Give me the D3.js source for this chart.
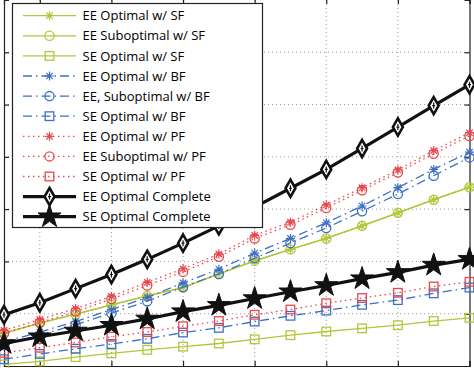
<!DOCTYPE html>
<html>
<head>
<meta charset="utf-8">
<script src="https://cdn.jsdelivr.net/npm/d3@7"></script>
<style>
  html, body { margin: 0; padding: 0; background: #fff; }
  svg { display: block; }
</style>
</head>
<body>
<div id="chart"></div>
<script>
// ---------- data ----------
const xValues = [1, 2, 3, 4, 5, 6, 7, 8, 9, 10, 11, 12, 13, 14];
const xTicks = [2, 4, 6, 8, 10, 12, 14];
const yTicks = [1, 2, 3, 4, 5, 6];

const eeOptSF   = [0.63, 0.82, 0.99, 1.17, 1.34, 1.50, 1.76, 2.01, 2.23, 2.44, 2.68, 2.93, 3.18, 3.42];
const eeSubSF   = [0.63, 0.82, 0.99, 1.17, 1.34, 1.50, 1.76, 2.01, 2.23, 2.44, 2.68, 2.93, 3.18, 3.42];
const seOptSF   = [0.03, 0.09, 0.17, 0.24, 0.31, 0.37, 0.43, 0.51, 0.59, 0.66, 0.72, 0.78, 0.86, 0.92];
const eeOptBF   = [0.46, 0.65, 0.85, 1.08, 1.31, 1.59, 1.85, 2.16, 2.44, 2.74, 3.06, 3.41, 3.76, 4.09];
const eeSubBF   = [0.40, 0.59, 0.79, 1.01, 1.24, 1.51, 1.76, 2.06, 2.35, 2.64, 2.96, 3.29, 3.64, 3.99];
const seOptBF   = [0.13, 0.23, 0.33, 0.42, 0.52, 0.64, 0.73, 0.85, 0.96, 1.06, 1.17, 1.26, 1.39, 1.50];
const eeOptPF   = [0.68, 0.89, 1.10, 1.33, 1.60, 1.86, 2.14, 2.50, 2.75, 3.08, 3.41, 3.75, 4.12, 4.46];
const eeSubPF   = [0.62, 0.83, 1.04, 1.28, 1.54, 1.80, 2.09, 2.44, 2.70, 3.02, 3.36, 3.70, 4.06, 4.40];
const seOptPF   = [0.25, 0.35, 0.45, 0.56, 0.65, 0.76, 0.86, 0.98, 1.08, 1.20, 1.30, 1.40, 1.52, 1.61];
const eeOptComp = [0.98, 1.21, 1.48, 1.75, 2.04, 2.35, 2.68, 3.04, 3.40, 3.76, 4.16, 4.57, 4.98, 5.38];
const seOptComp = [0.43, 0.56, 0.67, 0.78, 0.90, 1.04, 1.16, 1.29, 1.42, 1.54, 1.67, 1.79, 1.93, 2.04];

const seriesNames = [
  "EE Optimal w/ SF", "EE Suboptimal w/ SF", "SE Optimal w/ SF",
  "EE Optimal w/ BF", "EE, Suboptimal w/ BF", "SE Optimal w/ BF",
  "EE Optimal w/ PF", "EE Suboptimal w/ PF", "SE Optimal w/ PF",
  "EE Optimal Complete", "SE Optimal Complete"
];
const seriesValues = [eeOptSF, eeSubSF, seOptSF, eeOptBF, eeSubBF, seOptBF,
                      eeOptPF, eeSubPF, seOptPF, eeOptComp, seOptComp];

// ---------- styles ----------
const GREEN = "#b3c63a", BLUE = "#3d6fc2", RED = "#e8474c", BLACK = "#111";
const styles = [
  {color: GREEN, dash: null, width: 1.3, marker: "asterisk"},
  {color: GREEN, dash: null, width: 1.3, marker: "circle"},
  {color: GREEN, dash: null, width: 1.3, marker: "square"},
  {color: BLUE, dash: "9,4,1.5,4", width: 1.3, marker: "asterisk"},
  {color: BLUE, dash: "9,4,1.5,4", width: 1.3, marker: "circle"},
  {color: BLUE, dash: "9,4,1.5,4", width: 1.3, marker: "square"},
  {color: RED, dash: "1.5,3.5", width: 1.3, marker: "asterisk"},
  {color: RED, dash: "1.5,3.5", width: 1.3, marker: "circle"},
  {color: RED, dash: "1.5,3.5", width: 1.3, marker: "square"},
  {color: BLACK, dash: null, width: 3.2, marker: "diamond"},
  {color: BLACK, dash: null, width: 3.2, marker: "star"}
];

// ---------- layout ----------
const W = 474, H = 368;
const plot = {left: 4, right: 469.5, top: 0, bottom: 366};

const x = d3.scaleLinear().domain([1, 14]).range([plot.left, plot.right]);
const y = d3.scaleLinear().domain([0, 7]).range([plot.bottom, plot.top]);

const svg = d3.select("#chart").append("svg").attr("width", W).attr("height", H);

// grid
const grid = svg.append("g");
grid.selectAll("line.vg").data(xTicks.filter(t => t < 14)).join("line")
  .attr("x1", d => x(d)).attr("x2", d => x(d))
  .attr("y1", plot.top).attr("y2", plot.bottom)
  .attr("stroke", "#9a9a9a").attr("stroke-width", 1).attr("stroke-dasharray", "1,3");
grid.selectAll("line.hg").data(yTicks).join("line")
  .attr("x1", plot.left).attr("x2", plot.right)
  .attr("y1", d => y(d)).attr("y2", d => y(d))
  .attr("stroke", "#9a9a9a").attr("stroke-width", 1).attr("stroke-dasharray", "1,3");

// axes (ticks inward, no labels visible)
const tickLen = 5;
const axB = d3.axisTop(x).tickValues(xTicks).tickSize(tickLen).tickFormat("");
const axT = d3.axisBottom(x).tickValues(xTicks).tickSize(tickLen).tickFormat("");
const axL = d3.axisRight(y).tickValues(yTicks).tickSize(tickLen).tickFormat("");
const axR = d3.axisLeft(y).tickValues(yTicks).tickSize(tickLen).tickFormat("");
function styleAxis(g) {
  g.selectAll("path").attr("stroke", "#222").attr("stroke-width", 1.2);
  g.selectAll("line").attr("stroke", "#222").attr("stroke-width", 1.2);
}
svg.append("g").attr("transform", `translate(0,${plot.bottom})`).call(axB).call(styleAxis);
svg.append("g").attr("transform", `translate(0,${plot.top - 1})`).call(axT).call(styleAxis);
svg.append("g").attr("transform", `translate(${plot.left},0)`).call(axL).call(styleAxis);
svg.append("g").attr("transform", `translate(${plot.right},0)`).call(axR).call(styleAxis);

// marker drawing
function drawMarker(g, type, cx, cy, color) {
  if (type === "asterisk") {
    const r = 4.5;
    const p = d3.path();
    for (let k = 0; k < 4; k++) {
      const a = k * Math.PI / 4;
      p.moveTo(cx - r * Math.cos(a), cy - r * Math.sin(a));
      p.lineTo(cx + r * Math.cos(a), cy + r * Math.sin(a));
    }
    g.append("path").attr("d", p.toString()).attr("stroke", color).attr("stroke-width", 1.2).attr("fill", "none");
  } else if (type === "circle") {
    g.append("circle").attr("cx", cx).attr("cy", cy).attr("r", 4.6)
      .attr("fill", "none").attr("stroke", color).attr("stroke-width", 1.3);
  } else if (type === "square") {
    g.append("rect").attr("x", cx - 4.3).attr("y", cy - 4.3).attr("width", 8.6).attr("height", 8.6)
      .attr("fill", "none").attr("stroke", color).attr("stroke-width", 1.3);
  } else if (type === "diamond") {
    g.append("path").attr("d", d3.symbol().type(d3.symbolDiamond).size(85)())
      .attr("transform", `translate(${cx},${cy})`)
      .attr("fill", "#fff").attr("stroke", color).attr("stroke-width", 2.6);
    g.append("path").attr("d", `M${cx},${cy - 3}L${cx},${cy + 3}M${cx - 1.5},${cy}L${cx + 1.5},${cy}`)
      .attr("stroke", color).attr("stroke-width", 1.2);
  } else if (type === "star") {
    g.append("path").attr("d", d3.symbol().type(d3.symbolStar).size(165)())
      .attr("transform", `translate(${cx},${cy})`)
      .attr("fill", color).attr("stroke", color).attr("stroke-width", 1);
  }
}

// series
const line = d3.line().x((d, i) => x(xValues[i])).y(d => y(d));
svg.append("clipPath").attr("id", "clip").append("rect")
  .attr("x", 0).attr("y", 0).attr("width", W).attr("height", plot.bottom + 6);
const seriesG = svg.append("g").attr("clip-path", "url(#clip)");
seriesValues.forEach((vals, s) => {
  const st = styles[s];
  const g = seriesG.append("g");
  g.append("path").attr("d", line(vals))
    .attr("fill", "none").attr("stroke", st.color).attr("stroke-width", st.width)
    .attr("stroke-dasharray", st.dash);
  vals.forEach((v, i) => drawMarker(g, st.marker, x(xValues[i]), y(v), st.color));
});

// legend
const leg = svg.append("g");
leg.append("rect").attr("x", 12.5).attr("y", 3.5).attr("width", 250).attr("height", 224)
  .attr("fill", "#fff").attr("stroke", "#222").attr("stroke-width", 1.2);
seriesNames.forEach((name, s) => {
  const st = styles[s];
  const cy = 15.7 + s * 20.1;
  const g = leg.append("g");
  g.append("line").attr("x1", 23).attr("x2", 76).attr("y1", cy).attr("y2", cy)
    .attr("stroke", st.color).attr("stroke-width", st.width).attr("stroke-dasharray", st.dash);
  drawMarker(g, st.marker, 49.5, cy, st.color);
  g.append("text").attr("x", 82.5).attr("y", cy).attr("dy", "0.36em")
    .attr("font-family", "'Open Sans', sans-serif").attr("font-size", 13)
    .attr("fill", "#000").text(name);
});
</script>
</body>
</html>
